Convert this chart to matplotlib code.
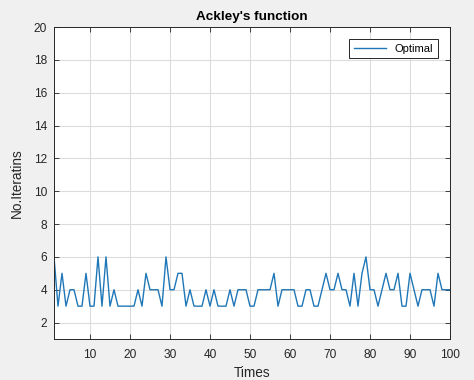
import numpy as np
import matplotlib
matplotlib.use("Agg")
import matplotlib.pyplot as plt

plt.rcParams['font.family'] = ['Liberation Sans', 'DejaVu Sans']

times = np.arange(1, 101)
iterations = [6, 3, 5, 3, 4, 4, 3, 3, 5, 3,
              3, 6, 3, 6, 3, 4, 3, 3, 3, 3,
              3, 4, 3, 5, 4, 4, 4, 3, 6, 4,
              4, 5, 5, 3, 4, 3, 3, 3, 4, 3,
              4, 3, 3, 3, 4, 3, 4, 4, 4, 3,
              3, 4, 4, 4, 4, 5, 3, 4, 4, 4,
              4, 3, 3, 4, 4, 3, 3, 4, 5, 4,
              4, 5, 4, 4, 3, 5, 3, 5, 6, 4,
              4, 3, 4, 5, 4, 4, 5, 3, 3, 5,
              4, 3, 4, 4, 4, 3, 5, 4, 4, 4]
xticks = [10, 20, 30, 40, 50, 60, 70, 80, 90, 100]
yticks = [2, 4, 6, 8, 10, 12, 14, 16, 18, 20]

fig = plt.figure(figsize=(4.74, 3.8), dpi=100, facecolor='#f0f0f0')
ax = fig.add_axes([54/474, 41/380, 396/474, 312/380])
ax.plot(times, iterations, '-', color='#1f77b8', lw=1.0, label='Optimal')

ax.set_xlim(1, 100)
ax.set_ylim(1, 20)
ax.set_xticks(xticks)
ax.set_yticks(yticks)
ax.grid(True, color='#dcdcdc', lw=0.8)
ax.set_axisbelow(True)
ax.tick_params(direction='in', length=3.5, width=0.6, top=True, right=True,
               labelsize=8.6, colors='#262626')
ax.tick_params(axis='x', pad=7)
ax.tick_params(axis='y', pad=5)
for s in ax.spines.values():
    s.set_color('#262626')
    s.set_linewidth(0.7)

ax.set_title("Ackley's function", fontsize=9.7, fontweight='bold', pad=5)
ax.set_xlabel('Times', fontsize=9.8, color='#262626', labelpad=4)
ax.set_ylabel('No.Iteratins', fontsize=9.8, color='#262626', labelpad=7)

leg = ax.legend(loc='upper right', fontsize=8, handlelength=2.9,
                fancybox=False, framealpha=1, edgecolor='#262626',
                borderaxespad=1.1)
leg.get_frame().set_linewidth(0.7)

fig.savefig('out.png', dpi=100, facecolor=fig.get_facecolor())
